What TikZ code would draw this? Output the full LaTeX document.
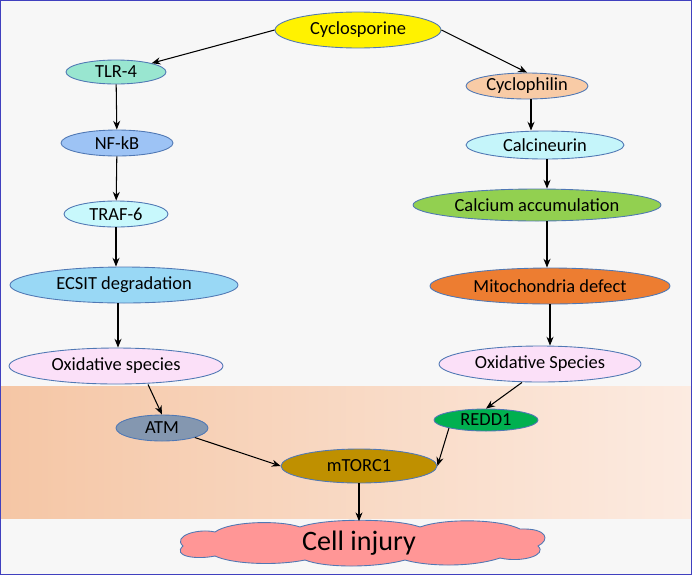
\documentclass[tikz,border=0pt]{standalone}
\usepackage{fontspec}
\setmainfont{Carlito}
\usetikzlibrary{shapes.geometric,arrows.meta}
\begin{document}
\begin{tikzpicture}[x=0.02cm,y=-0.02cm,
  el/.style={ellipse,draw={rgb,255:red,80;green,120;blue,180},line width=0.5pt,inner sep=0pt,font=\fontsize{10.5}{11}\selectfont},
  ar/.style={-{Stealth[length=5pt,width=4pt]},line width=0.6pt}]
\useasboundingbox (0,0) rectangle (692,575);
\fill[gray!6] (0,0) rectangle (692,575);
\shade[left color={rgb,255:red,245;green,198;blue,165},right color={rgb,255:red,252;green,235;blue,225}] (1,386) rectangle (691,518);
\draw[blue!50!gray,line width=0.8pt] (0.5,0.5) rectangle (691.5,574.5);
\node[el,fill=yellow,minimum width=3.32cm,minimum height=0.72cm] (cyc) at (358,30) {Cyclosporine};
\node[el,fill={rgb,255:red,153;green,230;blue,208},minimum width=2cm,minimum height=0.48cm] (tlr) at (116,72) {TLR-4};
\node[el,fill={rgb,255:red,248;green,203;blue,166},minimum width=2.44cm,minimum height=0.52cm] (cph) at (527,86) {Cyclophilin};
\node[el,fill={rgb,255:red,157;green,195;blue,245},minimum width=2.24cm,minimum height=0.52cm] (nfk) at (117,143) {NF-kB};
\node[el,fill={rgb,255:red,197;green,245;blue,250},minimum width=3.16cm,minimum height=0.56cm] (cal) at (545,145) {Calcineurin};
\node[el,fill={rgb,255:red,200;green,248;blue,252},minimum width=2.08cm,minimum height=0.52cm] (trf) at (116,214) {TRAF-6};
\node[el,fill={rgb,255:red,146;green,208;blue,80},minimum width=4.96cm,minimum height=0.64cm] (cac) at (537,205) {Calcium accumulation};
\node[el,fill={rgb,255:red,153;green,216;blue,245},minimum width=4.56cm,minimum height=0.72cm] (ecs) at (124,285) {ECSIT degradation};
\node[el,fill={rgb,255:red,237;green,125;blue,49},minimum width=4.8cm,minimum height=0.72cm] (mit) at (550,286) {Mitochondria defect};
\node[el,fill={rgb,255:red,251;green,224;blue,248},minimum width=4.28cm,minimum height=0.72cm] (ox1) at (116,366) {Oxidative species};
\node[el,fill={rgb,255:red,251;green,224;blue,248},minimum width=4.04cm,minimum height=0.72cm] (ox2) at (540,364) {Oxidative Species};
\node[el,fill={rgb,255:red,132;green,151;blue,176},minimum width=1.84cm,minimum height=0.52cm] (atm) at (162,428) {ATM};
\node[el,fill={rgb,255:red,0;green,176;blue,80},minimum width=2.08cm,minimum height=0.44cm] (red) at (486,420) {REDD1};
\node[el,fill={rgb,255:red,191;green,144;blue,0},minimum width=3.12cm,minimum height=0.68cm] (mtr) at (359,466) {mTORC1};
\filldraw[draw={rgb,255:red,80;green,120;blue,180},line width=0.5pt,fill={rgb,255:red,255;green,150;blue,150}]
 (183,546) .. controls (172,536) and (198,528) .. (215,532)
 .. controls (230,521) and (280,520) .. (300,527)
 .. controls (325,518) and (395,518) .. (420,527)
 .. controls (445,518) and (500,519) .. (520,529)
 .. controls (548,528) and (550,540) .. (538,546)
 .. controls (548,555) and (522,563) .. (500,558)
 .. controls (470,568) and (425,566) .. (405,560)
 .. controls (375,568) and (325,568) .. (305,560)
 .. controls (275,566) and (232,564) .. (215,556)
 .. controls (195,560) and (172,556) .. cycle;
\node[inner sep=0pt,font=\fontsize{16}{18}\selectfont,minimum height=0.86cm] (inj) at (359,543) {Cell injury};
\draw[ar] (cyc.west) -- (tlr.north east);
\draw[ar] (cyc.east) -- (cph.north);
\draw[ar] (tlr) -- (nfk);
\draw[ar] (nfk) -- (trf);
\draw[ar] (trf) -- (trf|-ecs.north);
\draw[ar] (ecs.south) ++(-6,0) coordinate (e1) -- (e1|-ox1.north);
\draw[ar] (cph.south) ++(4,0) coordinate (c1) -- (c1|-cal.north);
\draw[ar] (cal.south) ++(2,0) coordinate (c2) -- (c2|-cac.north);
\draw[ar] (cac.south) ++(10,0) coordinate (c3) -- (c3|-mit.north);
\draw[ar] (mit) -- (mit|-ox2.north);
\draw[ar] (ox1.south) ++(32,0) coordinate (o1) -- (atm.north);
\draw[ar] (ox2.south) ++(-18,0) coordinate (o2) -- (red.north);
\draw[ar] (atm.south east) -- (mtr.west);
\draw[ar] (red.south west) -- (mtr.east);
\draw[ar] (mtr) -- (inj.north);
\end{tikzpicture}
\end{document}
